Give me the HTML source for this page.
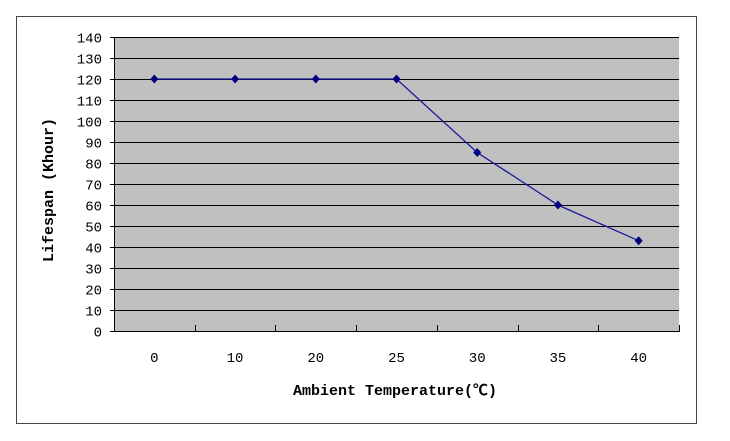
<!DOCTYPE html>
<html><head><meta charset="utf-8"><style>
body{margin:0;background:#fff;}
svg text{font-family:"Liberation Mono","Noto Sans CJK SC",monospace;}
</style></head><body>
<svg width="730" height="436" xmlns="http://www.w3.org/2000/svg">
<rect x="16.5" y="16.5" width="680" height="407" fill="#fff" stroke="#444" stroke-width="1"/>
<g id="plot"></g>
<text x="395" y="395" text-anchor="middle" font-size="15" font-weight="bold" fill="#000">Ambient Temperature(℃)</text>
<text transform="translate(53,190) rotate(-90)" text-anchor="middle" font-size="15" font-weight="bold" fill="#000">Lifespan (Khour)</text>
</svg>
<script>
const categories=["0","10","20","25","30","35","40"];
const lifespan=[120,120,120,120,85,60,43];
const yTicks=[0,10,20,30,40,50,60,70,80,90,100,110,120,130,140];
const L=114,R=679,T=37,B=331,yMax=140;
const NS="http://www.w3.org/2000/svg";
const g=document.getElementById('plot');
const bw=(R-L)/categories.length;
const xs=i=>L+bw*(i+0.5);
const ys=v=>B-(v/yMax)*(B-T);
function mk(t,a){const e=document.createElementNS(NS,t);for(const k in a)e.setAttribute(k,a[k]);g.appendChild(e);return e;}
let e=mk('rect',{x:L,y:T,width:R-L,height:B-T,fill:'#c0c0c0'});


yTicks.forEach(v=>{
 const y=Math.round(ys(v))+0.5;
 let l=mk('line',{x1:L-4,x2:R,y1:y,y2:y,stroke:'#000','stroke-width':1});
 
 
 let t=mk('text',{x:L-12,y:y+5,'text-anchor':'end','font-size':14,fill:'#000'});
 t.textContent=v;
 
 
});
let ax=mk('line',{x1:L+0.5,x2:L+0.5,y1:T,y2:B,stroke:'#000'});


for(let i=0;i<=categories.length;i++){
 const x=Math.round(L+bw*i)+0.5;
 let tk=mk('line',{x1:x,x2:x,y1:B-6,y2:B+1,stroke:'#000'});
 
 
}
categories.forEach((c,i)=>{
 let t=mk('text',{x:xs(i),y:362,'text-anchor':'middle','font-size':14,fill:'#000'});
 t.textContent=c;
 
 
});
let p=mk('polyline',{points:lifespan.map((v,i)=>xs(i)+','+ys(v)).join(' '),fill:'none',stroke:'#1a1a9a','stroke-width':1.3});


lifespan.forEach((v,i)=>{
 const x=xs(i),y=ys(v);
 let m=mk('polygon',{points:`${x},${y-4.5} ${x+4},${y} ${x},${y+4.5} ${x-4},${y}`,fill:'#000080'});
 
 
});
</script>
</body></html>
